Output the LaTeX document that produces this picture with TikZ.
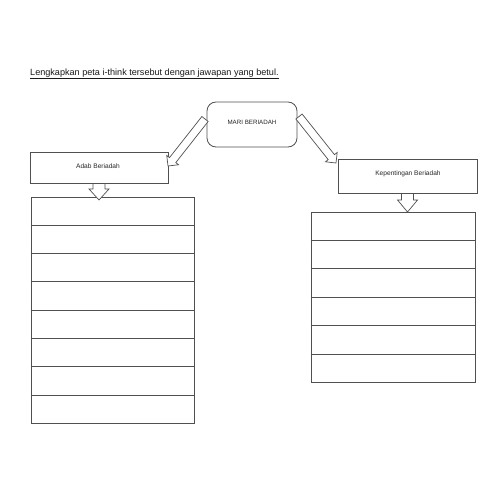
\documentclass[tikz,border=0pt]{standalone}
\usepackage{fontspec}
\setmainfont{Liberation Sans}
\usetikzlibrary{calc}
\definecolor{linecol}{HTML}{505050}
\newcommand{\blockarrow}[5]{% tail, tip, shaft width, head width, head length
  \coordinate (#2-hb) at ($(#2)!#5!(#1)$);
  \draw[blockarr]
    ($(#1)!#3/2!90:(#2)$) -- ($(#2-hb)!#3/2!90:(#2)$) -- ($(#2-hb)!#4/2!90:(#2)$)
    -- (#2) -- ($(#2-hb)!#4/2!-90:(#2)$) -- ($(#2-hb)!#3/2!-90:(#2)$)
    -- ($(#1)!#3/2!-90:(#2)$) -- cycle;}
\begin{document}
\begin{tikzpicture}[x=1pt,y=-1pt,
  boxline/.style={draw=linecol, line width=0.8pt},
  plainbox/.style={boxline, rectangle, inner sep=0pt, fill=white},
  topicbox/.style={plainbox, rounded corners=9pt},
  gridbox/.style={boxline, rectangle, inner sep=0pt},
  blockarr/.style={draw=linecol, line width=0.7pt, fill=white, line join=miter},
  boxtext/.style={font=\fontsize{6.2}{7}\selectfont, text=black!85}]
\useasboundingbox (0,0) rectangle (495,495);

\node[anchor=base west, inner sep=0pt, text=black!90] (title) at (30,75)
  {\fontsize{9.1}{10}\selectfont\underline{Lengkapkan peta i-think tersebut dengan jawapan yang betul.}};

% grids
\node[gridbox, minimum width=163pt, minimum height=226pt] (lgrid) at (112.5,310) {};
\foreach \i in {1,...,7}
  \draw[boxline] ($(lgrid.north west)!\i/8!(lgrid.south west)$) -- ($(lgrid.north east)!\i/8!(lgrid.south east)$);
\node[gridbox, minimum width=164pt, minimum height=170pt] (rgrid) at (393,297) {};
\foreach \i in {1,...,5}
  \draw[boxline] ($(rgrid.north west)!\i/6!(rgrid.south west)$) -- ($(rgrid.north east)!\i/6!(rgrid.south east)$);

% boxes
\node[topicbox, minimum width=90pt, minimum height=45pt] (main) at (252,124.5) {};
\node[boxtext] (maintext) at (252,122) {MARI BERIADAH};
\node[plainbox, minimum width=138pt, minimum height=31pt] (adab) at (99,167.5) {};
\node[boxtext, font=\fontsize{6.6}{7}\selectfont] (adabtext) at (98,166) {Adab Beriadah};
\node[plainbox, minimum width=139pt, minimum height=34pt] (kep) at (407.5,176) {};
\node[boxtext, font=\fontsize{6.6}{7}\selectfont] (keptext) at (408,174) {Kepentingan Beriadah};

% arrow ends
\coordinate (la0) at (205,119);
\coordinate (la1) at (168,166);
\coordinate (ra0) at (299,116.5);
\coordinate (ra1) at (336,163);
\coordinate (ld0) at (adab.south -| 99,0);
\coordinate (ld1) at (99,200);
\coordinate (rd0) at (kep.south -| 407.5,0);
\coordinate (rd1) at (407.5,212);

\blockarrow{la0}{la1}{8pt}{15pt}{7.5pt}
\blockarrow{ra0}{ra1}{8pt}{15pt}{7.5pt}
\blockarrow{ld0}{ld1}{12pt}{20pt}{11pt}
\blockarrow{rd0}{rd1}{12pt}{20pt}{12pt}
\end{tikzpicture}
\end{document}
